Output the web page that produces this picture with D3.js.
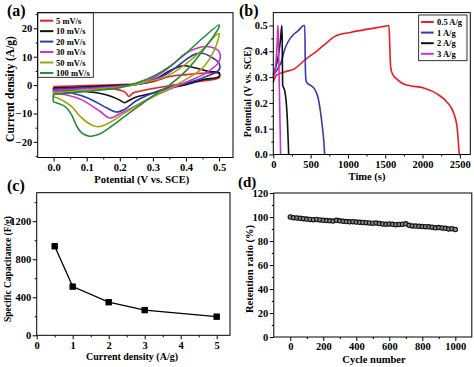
<!DOCTYPE html>
<html>
<head>
<meta charset="utf-8">
<script src="https://cdn.jsdelivr.net/npm/d3@7"></script>
<style>
  body { margin: 0; background: #fff; }
  svg { display: block; font-family: "Liberation Serif", "Times New Roman", serif; font-weight: bold; }
</style>
</head>
<body>
<svg id="fig" width="474" height="367"></svg>
<script>
// ---- panel (a): CV loops, [potential V, current A/g], anodic then cathodic ----
var cvRates = ["5 mV/s", "10 mV/s", "20 mV/s", "30 mV/s", "50 mV/s", "100 mV/s"];
var cvColors = ["#ee1c25", "#111111", "#2b3bb8", "#cc33cc", "#a3a312", "#238b3a"];
var cv5 = [[0,-0.5],[0.1,-0.2],[0.2,0.2],[0.26,0.5],[0.3,1.2],[0.35,3.0],[0.4,3.7],[0.45,4.2],[0.5,4.0],
  [0.5,2.6],[0.45,1.5],[0.4,0.6],[0.35,-0.2],[0.3,-1.2],[0.26,-2.2],[0.24,-2.8],[0.228,-4.0],[0.215,-2.4],[0.19,-1.5],[0.1,-1.0],[0,-0.7]];
var cv10 = [[0,-1.0],[0.1,-0.6],[0.2,-0.1],[0.26,0.4],[0.3,1.5],[0.35,5.0],[0.39,6.8],[0.43,6.0],[0.47,4.8],[0.5,4.4],
  [0.5,3.0],[0.45,1.9],[0.4,0.1],[0.35,-1.0],[0.3,-2.8],[0.25,-4.2],[0.225,-5.6],[0.214,-6.2],[0.2,-5.3],[0.175,-4.0],[0.135,-2.8],[0.06,-1.9],[0,-1.5]];
var cv20 = [[0,-1.4],[0.1,-0.9],[0.2,-0.3],[0.26,0.4],[0.3,1.9],[0.34,3.8],[0.37,6.2],[0.4,9.0],[0.43,11.0],[0.45,11.2],[0.475,10.0],[0.5,7.7],
  [0.5,5.4],[0.45,2.5],[0.4,0.7],[0.35,-0.8],[0.3,-2.8],[0.25,-5.5],[0.215,-8.5],[0.19,-9.5],[0.16,-8.0],[0.105,-4.6],[0.054,-2.8],[0,-1.9]];
var cv30 = [[0,-1.9],[0.1,-1.3],[0.2,-0.5],[0.26,0.5],[0.3,2.5],[0.34,5.4],[0.37,8.3],[0.4,11.2],[0.45,13.5],[0.475,13.4],[0.5,11.8],
  [0.5,8.3],[0.47,5.0],[0.45,3.6],[0.4,1.0],[0.35,-1.5],[0.3,-4.0],[0.245,-7.5],[0.205,-9.8],[0.17,-11.6],[0.14,-9.2],[0.085,-5.2],[0.04,-3.5],[0,-2.8]];
var cv50 = [[0,-2.6],[0.1,-1.7],[0.2,-0.7],[0.26,0.5],[0.3,1.6],[0.35,3.6],[0.4,7.5],[0.45,12.5],[0.49,17.5],[0.5,18.2],
  [0.5,17.5],[0.49,13.5],[0.47,9.0],[0.45,6.0],[0.4,2.0],[0.35,-1.2],[0.3,-4.2],[0.256,-6.9],[0.215,-9.8],[0.175,-12.8],[0.14,-14.6],[0.12,-14.3],[0.1,-13.0],[0.075,-10.4],[0.054,-7.5],[0.014,-4.6],[0,-4.0]];
var cv100 = [[0,-3.3],[0.1,-2.2],[0.2,-0.9],[0.25,0.7],[0.3,3.0],[0.35,6.5],[0.4,11.2],[0.45,16.5],[0.5,21.2],
  [0.5,20.5],[0.45,12.0],[0.4,5.0],[0.35,0.0],[0.3,-3.8],[0.256,-7.5],[0.215,-11.0],[0.175,-14.5],[0.135,-17.4],[0.108,-18.0],[0.085,-16.8],[0.07,-14.5],[0.054,-10.4],[0.034,-7.5],[0.01,-6.3],[0,-5.8]];
var cvSeries = [cv5, cv10, cv20, cv30, cv50, cv100];

// ---- panel (b): charge/discharge, [time s, potential V] ----
var gcdRates = ["0.5 A/g", "1 A/g", "2 A/g", "3 A/g"];
var gcdColors = ["#ee1c25", "#3a3ab0", "#111111", "#cc33cc"];
var gcd05 = [[0,0.28],[40,0.307],[150,0.32],[290,0.333],[420,0.366],[600,0.405],[730,0.437],[820,0.457],[1045,0.474],[1270,0.486],[1515,0.498],[1550,0.5],
  [1560,0.43],[1572,0.34],[1600,0.31],[1650,0.294],[1715,0.278],[1805,0.268],[2016,0.258],[2194,0.235],[2328,0.203],[2418,0.16],[2462,0.108],[2492,0]];
var gcd1 = [[0,0.305],[60,0.333],[107,0.359],[150,0.405],[197,0.437],[264,0.463],[331,0.479],[410,0.5],[422,0.5],
  [430,0.33],[440,0.285],[465,0.274],[509,0.266],[560,0.25],[600,0.22],[630,0.17],[660,0.1],[680,0.04],[688,0]];
var gcd2 = [[0,0.31],[40,0.346],[76,0.398],[98,0.45],[114,0.5],[119,0.45],[125,0.27],[152,0.248],[174,0.2],[188,0.137],[200,0.05],[206,0]];
var gcd3 = [[0,0.3],[27,0.333],[45,0.398],[54,0.45],[60,0.5],[64,0.5],[72,0.4],[78,0.3],[85,0.2],[98,0]];
var gcdSeries = [gcd05, gcd1, gcd2, gcd3];

// ---- panel (c): rate capability ----
var currentDensity = [0.5, 1, 2, 3, 5];
var capacitance = [937, 512, 348, 265, 196];

// ---- panel (d): cycling ----
var cycles = [0,20,40,60,80,100,120,140,160,180,200,220,240,260,280,300,320,340,360,380,400,420,440,460,480,
  500,520,540,560,580,600,620,640,660,680,700,720,740,760,780,800,820,840,860,880,900,920,940,960,980,1000];
var retention = [100,99.4,99.2,98.9,98.6,98.3,98.0,97.8,98.0,97.6,97.2,97.0,96.8,96.6,97.2,96.8,96.4,96.2,96.0,96.1,
  95.8,95.6,95.4,95.3,95.0,94.8,94.9,94.5,94.2,93.9,94.2,93.9,93.6,93.8,94.0,94.3,93.1,92.6,92.4,92.2,
  92.0,91.9,91.8,91.5,91.0,91.2,90.9,90.6,89.9,90.2,89.6];

var svg = d3.select("#fig");

// axes + box for one panel
function axes(x, y, xt, xm, yt, ym, fx, fy) {
  var xr = x.range(), yr = y.range();
  var g = svg.append("g");
  g.append("g").attr("transform", "translate(0," + yr[0] + ")")
    .call(d3.axisBottom(x).tickValues(xm).tickSize(2).tickFormat(""));
  g.append("g").attr("transform", "translate(0," + yr[0] + ")")
    .call(d3.axisBottom(x).tickValues(xt).tickSize(4).tickPadding(2).tickFormat(fx));
  g.append("g").attr("transform", "translate(" + xr[0] + ",0)")
    .call(d3.axisLeft(y).tickValues(ym).tickSize(2).tickFormat(""));
  g.append("g").attr("transform", "translate(" + xr[0] + ",0)")
    .call(d3.axisLeft(y).tickValues(yt).tickSize(4).tickPadding(1.5).tickFormat(fy));
  g.selectAll(".domain").remove();
  g.selectAll("g").attr("font-family", null).attr("font-size", 10.5);
  g.selectAll("line").attr("stroke", "#000");
  g.selectAll("text").attr("fill", "#000");
  return function () {
    svg.append("rect")
      .attr("x", xr[0]).attr("y", yr[1])
      .attr("width", xr[1] - xr[0]).attr("height", yr[0] - yr[1])
      .attr("fill", "none").attr("stroke", "#000").attr("stroke-width", 1);
  };
}

function label(txt, x, y, size, rot) {
  var t = svg.append("text").attr("font-size", size).text(txt);
  if (rot) t.attr("transform", "translate(" + x + "," + y + ") rotate(-90)").attr("text-anchor", "middle");
  else t.attr("x", x).attr("y", y);
  return t;
}

// ---------- (a) ----------
var xa = d3.scaleLinear().domain([-0.048, 0.542]).range([37.7, 233]);
var ya = d3.scaleLinear().domain([-25.5, 25.5]).range([157.5, 12.7]);
var boxA = axes(xa, ya, [0, 0.1, 0.2, 0.3, 0.4, 0.5], [0.05, 0.15, 0.25, 0.35, 0.45],
  [-20, -10, 0, 10, 20], [-25, -15, -5, 5, 15, 25], d3.format(".1f"), d3.format("d"));
var lineA = d3.line().x(d => xa(d[0])).y(d => ya(d[1])).curve(d3.curveCatmullRom.alpha(0.5));
cvSeries.forEach(function (s, i) {
  svg.append("path").datum(s.concat([s[0]]))
    .attr("fill", "none").attr("stroke", cvColors[i]).attr("stroke-width", 1.6)
    .attr("d", lineA);
});
// legend (a)
svg.append("rect").attr("x", 37.7).attr("y", 12.7).attr("width", 55.6).attr("height", 64.6)
  .attr("fill", "#fff").attr("stroke", "#000").attr("stroke-width", 0.8);
cvRates.forEach(function (r, i) {
  var yy = 20.7 + i * 10.45;
  svg.append("line").attr("x1", 40).attr("x2", 53.3).attr("y1", yy).attr("y2", yy)
    .attr("stroke", cvColors[i]).attr("stroke-width", 2);
  svg.append("text").attr("x", 56).attr("y", yy + 3).attr("font-size", 8.5).text(r);
});
boxA();
label("(a)", 7, 16, 16);
label("Current density (A/g)", 14, 89, 11.5, true);
label("Potential (V vs. SCE)", 141.7, 183, 10.5).attr("text-anchor", "middle");

// ---------- (b) ----------
var xb = d3.scaleLinear().domain([0, 2640]).range([273.3, 470.3]);
var yb = d3.scaleLinear().domain([0, 0.55]).range([154.5, 12.6]);
var boxB = axes(xb, yb, [0, 500, 1000, 1500, 2000, 2500], [250, 750, 1250, 1750, 2250],
  [0, 0.1, 0.2, 0.3, 0.4, 0.5], [0.05, 0.15, 0.25, 0.35, 0.45], d3.format("d"), d3.format(".1f"));
var lineB = d3.line().x(d => xb(d[0])).y(d => yb(d[1])).curve(d3.curveMonotoneX);
gcdSeries.forEach(function (s, i) {
  svg.append("path").datum(s)
    .attr("fill", "none").attr("stroke", gcdColors[i]).attr("stroke-width", 1.6)
    .attr("d", lineB);
});
svg.append("rect").attr("x", 418.7).attr("y", 15).attr("width", 48.3).attr("height", 45.7)
  .attr("fill", "#fff").attr("stroke", "#000").attr("stroke-width", 0.8);
gcdRates.forEach(function (r, i) {
  var yy = 22 + i * 10.6;
  svg.append("line").attr("x1", 421).attr("x2", 433.7).attr("y1", yy).attr("y2", yy)
    .attr("stroke", gcdColors[i]).attr("stroke-width", 2);
  svg.append("text").attr("x", 437).attr("y", yy + 3).attr("font-size", 8.5).text(r);
});
boxB();
label("(b)", 239, 16, 16);
label("Potential (V vs. SCE)", 251, 92, 10, true);
label("Time (s)", 367, 180, 10.5).attr("text-anchor", "middle");

// ---------- (c) ----------
var xc = d3.scaleLinear().domain([0, 5.37]).range([36.7, 230]);
var yc = d3.scaleLinear().domain([0, 1500]).range([335.3, 192.7]);
var boxC = axes(xc, yc, [0, 1, 2, 3, 4, 5], [0.5, 1.5, 2.5, 3.5, 4.5],
  [0, 400, 800, 1200], [200, 600, 1000, 1400], d3.format("d"), d3.format("d"));
svg.append("path").datum(currentDensity)
  .attr("fill", "none").attr("stroke", "#000").attr("stroke-width", 1.3)
  .attr("d", d3.line().x(d => xc(d)).y((d, i) => yc(capacitance[i])));
svg.selectAll(".sq").data(currentDensity).enter().append("rect")
  .attr("x", d => xc(d) - 3.2).attr("y", (d, i) => yc(capacitance[i]) - 3.2)
  .attr("width", 6.4).attr("height", 6.4).attr("fill", "#000");
boxC();
label("(c)", 7, 191, 16);
label("Specific Capacitance (F/g)", 11, 269, 9.5, true);
label("Current density (A/g)", 132, 360, 10).attr("text-anchor", "middle");

// ---------- (d) ----------
var xd = d3.scaleLinear().domain([-100, 1100]).range([273.8, 471.8]);
var yd = d3.scaleLinear().domain([0, 120]).range([337, 193]);
var boxD = axes(xd, yd, [0, 200, 400, 600, 800, 1000], [100, 300, 500, 700, 900],
  [0, 20, 40, 60, 80, 100, 120], [10, 30, 50, 70, 90, 110], d3.format("d"), d3.format("d"));
svg.selectAll(".pt").data(cycles).enter().append("circle")
  .attr("cx", d => xd(d)).attr("cy", (d, i) => yd(retention[i]))
  .attr("r", 2.2).attr("fill", "#888").attr("stroke", "#111").attr("stroke-width", 1.1);
boxD();
label("(d)", 238, 187, 15);
label("Retention ratio (%)", 252.5, 269, 10.5, true);
label("Cycle number", 374, 363, 10.5).attr("text-anchor", "middle");
</script>
</body>
</html>
